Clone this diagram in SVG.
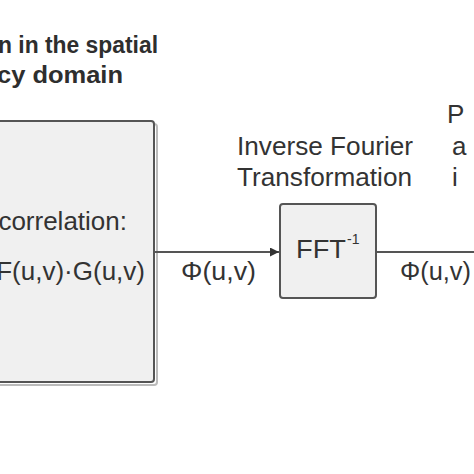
<svg xmlns="http://www.w3.org/2000/svg" width="474" height="474" viewBox="0 0 474 474">
<style>
text{font-family:"Liberation Sans",Arial,sans-serif;fill:#333;font-size:26px}
.bold{font-weight:bold;font-size:23px;fill:#2e2e2e}
.sup{font-size:14px}
.box{fill:#f0f0f0;stroke:#555;stroke-width:2}
.shadow{fill:none;stroke:#bbb;stroke-width:2}
.conn{stroke:#555;stroke-width:2;fill:none}
</style>
<defs>
<marker id="arr" viewBox="0 0 10 10" refX="10" refY="5" markerWidth="9" markerHeight="9" markerUnits="userSpaceOnUse" orient="auto">
<path d="M0,0 L10,5 L0,10 z" fill="#333"/>
</marker>
</defs>
<rect width="474" height="474" fill="#fff"/>
<g id="title">
<text class="bold" x="-2" y="53" textLength="160" lengthAdjust="spacingAndGlyphs">n in the spatial</text>
<text class="bold" x="-3" y="83" textLength="126" lengthAdjust="spacingAndGlyphs">cy domain</text>
</g>
<g id="correlation-box">
<rect class="shadow" x="-12" y="124" width="169" height="261" rx="3"/>
<rect class="box" x="-10" y="121" width="164" height="261" rx="3"/>
<text x="127" y="230" text-anchor="end">correlation:</text>
<text x="145" y="280" text-anchor="end">F(u,v)·G(u,v)</text>
</g>
<g id="connectors">
<path class="conn" d="M155,252 H279" marker-end="url(#arr)"/>
<path class="conn" d="M377,252 H474"/>
</g>
<g id="labels">
<text x="181" y="280" textLength="75" lengthAdjust="spacingAndGlyphs">Φ(u,v)</text>
<text x="400" y="280" textLength="71" lengthAdjust="spacingAndGlyphs">Φ(u,v)</text>
</g>
<g id="ifft-label">
<text x="237" y="155" textLength="176" lengthAdjust="spacingAndGlyphs">Inverse Fourier</text>
<text x="237" y="186" textLength="175" lengthAdjust="spacingAndGlyphs">Transformation</text>
</g>
<g id="fft-box">
<rect class="box" x="280" y="204" width="96" height="94" rx="3"/>
<text x="296" y="258" textLength="50" lengthAdjust="spacingAndGlyphs">FFT</text>
<text class="sup" x="347" y="244">-1</text>
</g>
<g id="right-label">
<text x="447" y="123">P</text>
<text x="452" y="155">a</text>
<text x="452" y="186">i</text>
</g>
</svg>
